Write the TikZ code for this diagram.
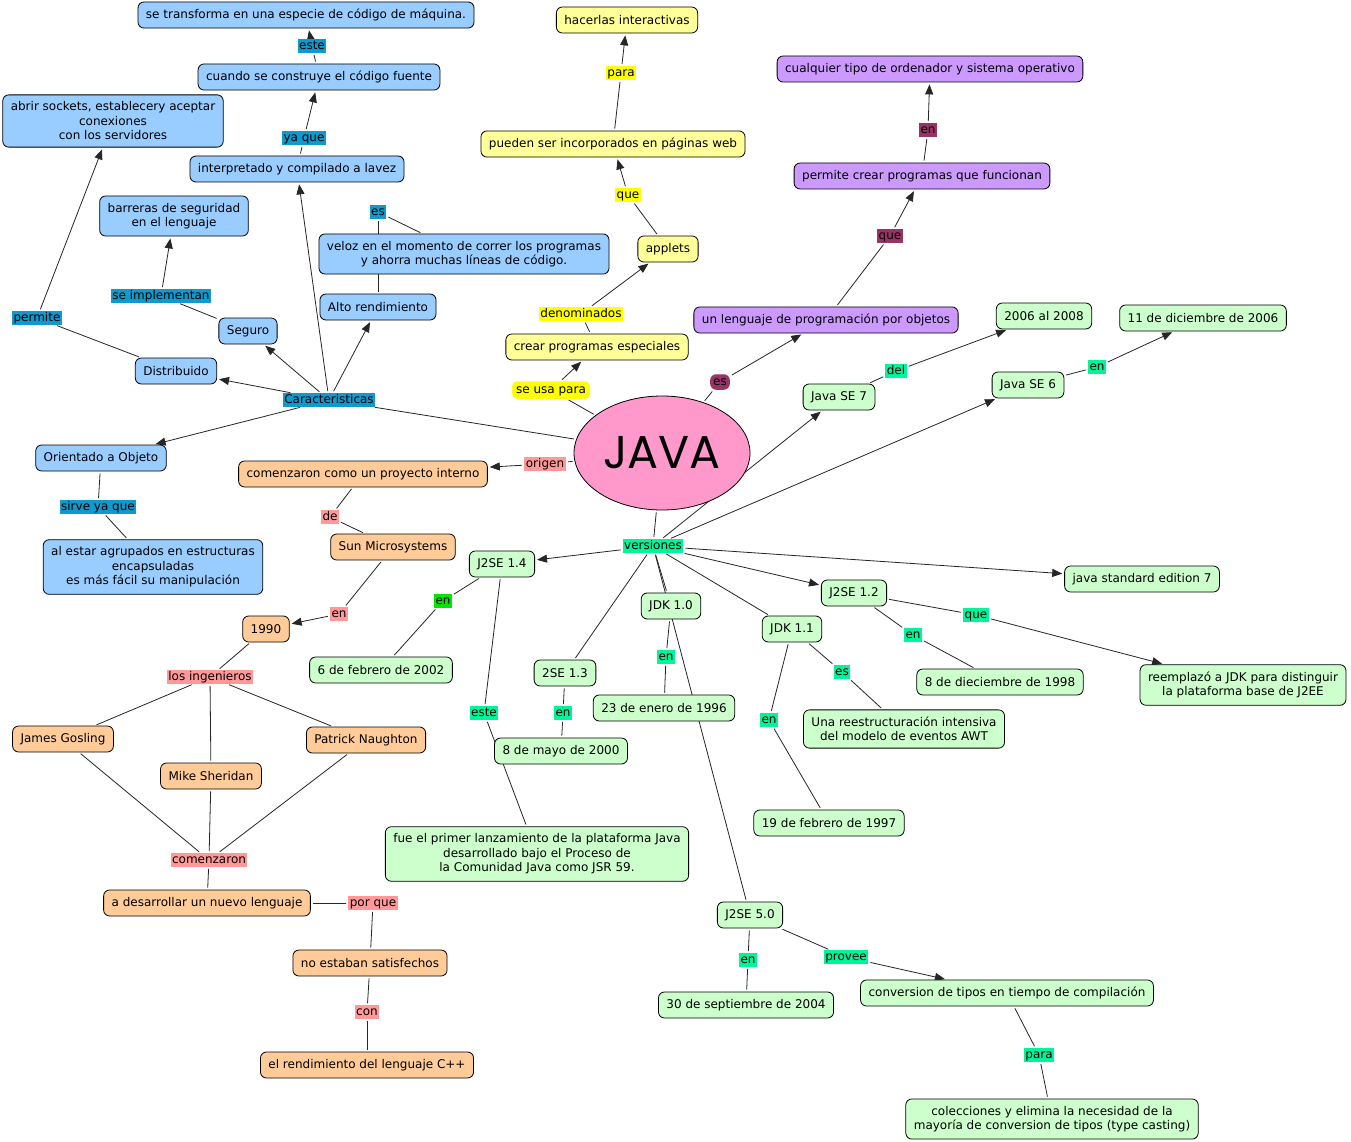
\documentclass[tikz,border=0pt]{standalone}
\usepackage{fontspec}
\setmainfont{DejaVu Sans}
\newfontfamily\javafont{Poppins}
\usepackage{xcolor}
\usetikzlibrary{shapes.geometric, arrows.meta, backgrounds}

\definecolor{blueFill}{RGB}{153,204,255}
\definecolor{blueLink}{RGB}{16,153,204}
\definecolor{yelFill}{RGB}{255,255,153}
\definecolor{yelLink}{RGB}{255,255,0}
\definecolor{purFill}{RGB}{204,153,255}
\definecolor{purLink}{RGB}{153,51,102}
\definecolor{oraFill}{RGB}{255,204,153}
\definecolor{oraLink}{RGB}{255,153,153}
\definecolor{grnFill}{RGB}{204,255,204}
\definecolor{grnLink}{RGB}{0,245,155}
\definecolor{limeLink}{RGB}{0,230,0}
\definecolor{javaPink}{RGB}{255,153,204}

\begin{document}
\begin{tikzpicture}[x=1pt, y=-1pt,
  every node/.style={font=\fontsize{12}{14.5}\selectfont},
  concept/.style={draw, rounded corners=6pt, line width=.8pt, inner xsep=8pt,
                  inner ysep=7pt, minimum height=26pt, align=center},
  bluebox/.style={concept, fill=blueFill},
  yelbox/.style={concept, fill=yelFill},
  purbox/.style={concept, fill=purFill},
  orabox/.style={concept, fill=oraFill},
  grnbox/.style={concept, fill=grnFill},
  lbl/.style={inner xsep=1.5pt, inner ysep=1pt, text height=9pt, text depth=2.5pt},
  bluelbl/.style={lbl, fill=blueLink},
  yellbl/.style={lbl, fill=yelLink},
  purlbl/.style={lbl, fill=purLink},
  oralbl/.style={lbl, fill=oraLink},
  grnlbl/.style={lbl, fill=grnLink},
  link/.style={draw=black!85, line width=.8pt, shorten <=2pt, shorten >=2pt},
  arrow/.style={link, -{Triangle[length=10pt, width=8pt]}}
]
\useasboundingbox (0,0) rectangle (1351,1142);

% Centre
\node[ellipse, draw, fill=javaPink, line width=.8pt, minimum width=176pt,
      minimum height=114pt, inner sep=0pt,
      font=\javafont\fontsize{46}{46}\selectfont] (java) at (662,453) {JAVA};

% Caracteristicas (blue)
\node[bluebox] (maquina) at (306,15) {se transforma en una especie de código de máquina.};
\node[bluebox] (fuente) at (319,77) {cuando se construye el código fuente};
\node[bluebox] (sockets) at (113,121) {abrir sockets, establecery aceptar\\conexiones\\con los servidores};
\node[bluebox] (interp) at (297,169) {interpretado y compilado a lavez};
\node[bluebox] (barreras) at (174,216) {barreras de seguridad\\en el lenguaje};
\node[bluebox] (veloz) at (464,254) {veloz en el momento de correr los programas\\y ahorra muchas líneas de código.};
\node[bluebox] (alto) at (378,307) {Alto rendimiento};
\node[bluebox] (seguro) at (248,331) {Seguro};
\node[bluebox] (distrib) at (176,371) {Distribuido};
\node[bluebox] (orientado) at (101,458) {Orientado a Objeto};
\node[bluebox] (agrupados) at (153,567) {al estar agrupados en estructuras\\encapsuladas\\es más fácil su manipulación};

\node[bluelbl] (lEste) at (312,46) {este};
\node[bluelbl] (lYaQue) at (304,138) {ya que};
\node[bluelbl] (lEsB) at (378,212) {es};
\node[bluelbl] (lImpl) at (161,296) {se implementan};
\node[bluelbl] (lPermite) at (37,318) {permite};
\node[bluelbl] (lCaract) at (329,400) {Caracteristicas};
\node[bluelbl] (lSirve) at (98,507) {sirve ya que};

% se usa para (yellow)
\node[yelbox] (interact) at (627,20) {hacerlas interactivas};
\node[yelbox] (paginas) at (613,144) {pueden ser incorporados en páginas web};
\node[yelbox] (applets) at (668,249) {applets};
\node[yelbox] (crear) at (597,347) {crear programas especiales};

\node[yellbl] (lPara) at (621,73) {para};
\node[yellbl] (lQueY) at (628,195) {que};
\node[yellbl] (lDenom) at (581,314) {denominados};
\node[yellbl, rounded corners=5pt, inner xsep=4pt, inner ysep=3pt] (lUsa) at (551,390) {se usa para};

% es (purple)
\node[purbox] (ordenador) at (930,69) {cualquier tipo de ordenador y sistema operativo};
\node[purbox] (funcionan) at (922,176) {permite crear programas que funcionan};
\node[purbox] (lenguaje) at (826,320) {un lenguaje de programación por objetos};

\node[purlbl] (lEnP) at (928,130) {en};
\node[purlbl] (lQueP) at (890,236) {que};
\node[purlbl, rounded corners=6pt, inner xsep=3pt, inner ysep=2pt] (lEsP) at (720,382) {es};

% origen (orange)
\node[orabox] (proyecto) at (363,474) {comenzaron como un proyecto interno};
\node[orabox] (sun) at (393,547) {Sun Microsystems};
\node[orabox] (year) at (266,629) {1990};
\node[orabox] (gosling) at (63,739) {James Gosling};
\node[orabox] (sheridan) at (211,776) {Mike Sheridan};
\node[orabox] (naughton) at (366,740) {Patrick Naughton};
\node[orabox] (nuevo) at (207,903) {a desarrollar un nuevo lenguaje};
\node[orabox] (satisf) at (370,963) {no estaban satisfechos};
\node[orabox] (cpp) at (367,1065) {el rendimiento del lenguaje C++};

\node[oralbl] (lOrigen) at (545,464) {origen};
\node[oralbl] (lDe) at (330,517) {de};
\node[oralbl] (lEnO) at (339,614) {en};
\node[oralbl] (lIng) at (210,677) {los ingenieros};
\node[oralbl] (lComenz) at (209,860) {comenzaron};
\node[oralbl] (lPorQue) at (373,903) {por que};
\node[oralbl] (lCon) at (367,1012) {con};

% versiones (green)
\node[grnbox] (y0608) at (1044,316) {2006 al 2008};
\node[grnbox] (d2006) at (1203,318) {11 de diciembre de 2006};
\node[grnbox] (se7) at (839,397) {Java SE 7};
\node[grnbox] (se6) at (1028,385) {Java SE 6};
\node[grnbox] (j14) at (502,564) {J2SE 1.4};
\node[grnbox] (std7) at (1142,579) {java standard edition 7};
\node[grnbox] (j12) at (854,593) {J2SE 1.2};
\node[grnbox] (jdk10) at (671,606) {JDK 1.0};
\node[grnbox] (jdk11) at (792,629) {JDK 1.1};
\node[grnbox] (d2002) at (381,670) {6 de febrero de 2002};
\node[grnbox] (j13) at (565,673) {2SE 1.3};
\node[grnbox] (d1998) at (1000,682) {8 de dieciembre de 1998};
\node[grnbox] (reemplazo) at (1243,685) {reemplazó a JDK para distinguir\\la plataforma base de J2EE};
\node[grnbox] (d1996) at (664,708) {23 de enero de 1996};
\node[grnbox] (awt) at (904,729) {Una reestructuración intensiva\\del modelo de eventos AWT};
\node[grnbox] (d2000) at (561,751) {8 de mayo de 2000};
\node[grnbox] (d1997) at (829,823) {19 de febrero de 1997};
\node[grnbox] (jsr) at (537,854) {fue el primer lanzamiento de la plataforma Java\\desarrollado bajo el Proceso de\\la Comunidad Java como JSR 59.};
\node[grnbox] (j50) at (750,915) {J2SE 5.0};
\node[grnbox] (conv) at (1007,993) {conversion de tipos en tiempo de compilación};
\node[grnbox] (d2004) at (746,1005) {30 de septiembre de 2004};
\node[grnbox] (colec) at (1052,1119) {colecciones y elimina la necesidad de la\\mayoría de conversion de tipos (type casting)};

\node[grnlbl] (lDel) at (896,371) {del};
\node[grnlbl] (lEnSE6) at (1097,367) {en};
\node[grnlbl] (lVers) at (653,546) {versiones};
\node[lbl, fill=limeLink] (lEn14) at (443,601) {en};
\node[grnlbl] (lQueG) at (976,615) {que};
\node[grnlbl] (lEn12) at (913,635) {en};
\node[grnlbl] (lEn10) at (666,657) {en};
\node[grnlbl] (lEs11) at (842,672) {es};
\node[grnlbl] (lEste14) at (484,713) {este};
\node[grnlbl] (lEn13) at (563,713) {en};
\node[grnlbl] (lEn11) at (769,720) {en};
\node[grnlbl] (lEn50) at (748,960) {en};
\node[grnlbl] (lProvee) at (846,957) {provee};
\node[grnlbl] (lParaG) at (1039,1055) {para};

% Connectors, behind the nodes
\begin{scope}[on background layer]
\fill[white] (0,0) rectangle (1351,1142);

\draw[link] (java) -- (lCaract);
\draw[arrow] (lCaract) -- (orientado);
\draw[arrow] (lCaract) -- (distrib);
\draw[arrow] (lCaract) -- (seguro);
\draw[arrow] (lCaract) -- (interp);
\draw[arrow] (lCaract) -- (alto);
\draw[link] (alto) -- (lEsB);
\draw[link] (lEsB) -- (veloz);
\draw[link] (distrib) -- (lPermite);
\draw[arrow] (lPermite) -- (sockets);
\draw[link] (seguro) -- (lImpl);
\draw[arrow] (lImpl) -- (barreras);
\draw[link] (interp) -- (lYaQue);
\draw[arrow] (lYaQue) -- (fuente);
\draw[link] (fuente) -- (lEste);
\draw[arrow] (lEste) -- (maquina);
\draw[link] (orientado) -- (lSirve);
\draw[link] (lSirve) -- (agrupados);

\draw[link] (java) -- (lUsa);
\draw[arrow] (lUsa) -- (crear);
\draw[link] (crear) -- (lDenom);
\draw[arrow] (lDenom) -- (applets);
\draw[link] (applets) -- (lQueY);
\draw[arrow] (lQueY) -- (paginas);
\draw[link] (paginas) -- (lPara);
\draw[arrow] (lPara) -- (interact);

\draw[link] (java) -- (lEsP);
\draw[arrow] (lEsP) -- (lenguaje);
\draw[link] (lenguaje) -- (lQueP);
\draw[arrow] (lQueP) -- (funcionan);
\draw[link] (funcionan) -- (lEnP);
\draw[arrow] (lEnP) -- (ordenador);

\draw[link] (java) -- (lOrigen);
\draw[arrow] (lOrigen) -- (proyecto);
\draw[link] (proyecto) -- (lDe);
\draw[link] (lDe) -- (sun);
\draw[link] (sun) -- (lEnO);
\draw[arrow] (lEnO) -- (year);
\draw[link] (year) -- (lIng);
\foreach \who in {gosling, sheridan, naughton} {
  \draw[link] (lIng) -- (\who);
  \draw[link] (\who) -- (lComenz);
}
\draw[link] (lComenz) -- (nuevo);
\draw[link] (nuevo) -- (lPorQue);
\draw[link] (lPorQue) -- (satisf);
\draw[link] (satisf) -- (lCon);
\draw[link] (lCon) -- (cpp);

\draw[link] (java) -- (lVers);
\foreach \ver in {j14, se7, se6, std7, j12} \draw[arrow] (lVers) -- (\ver);
\foreach \ver in {jdk10, jdk11, j13, j50} \draw[link] (lVers) -- (\ver);
\draw[link] (se7) -- (lDel);
\draw[arrow] (lDel) -- (y0608);
\draw[link] (se6) -- (lEnSE6);
\draw[arrow] (lEnSE6) -- (d2006);
\draw[link] (j14) -- (lEn14);
\draw[link] (lEn14) -- (d2002);
\draw[link] (j14) -- (lEste14);
\draw[link] (lEste14) -- (jsr);
\draw[link] (j13) -- (lEn13);
\draw[link] (lEn13) -- (d2000);
\draw[link] (jdk10) -- (lEn10);
\draw[link] (lEn10) -- (d1996);
\draw[link] (jdk11) -- (lEn11);
\draw[link] (lEn11) -- (d1997);
\draw[link] (jdk11) -- (lEs11);
\draw[link] (lEs11) -- (awt);
\draw[link] (j12) -- (lEn12);
\draw[link] (lEn12) -- (d1998);
\draw[link] (j12) -- (lQueG);
\draw[arrow] (lQueG) -- (reemplazo);
\draw[link] (j50) -- (lEn50);
\draw[link] (lEn50) -- (d2004);
\draw[link] (j50) -- (lProvee);
\draw[arrow] (lProvee) -- (conv);
\draw[link] (conv) -- (lParaG);
\draw[link] (lParaG) -- (colec);
\end{scope}

\end{tikzpicture}
\end{document}
